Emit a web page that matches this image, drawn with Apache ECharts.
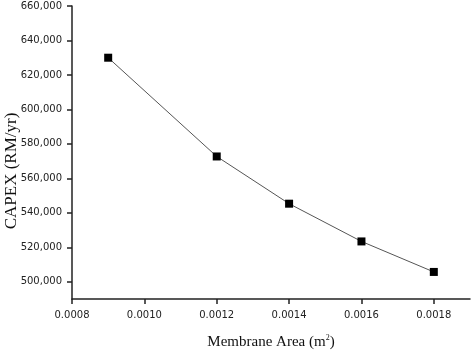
<!DOCTYPE html>
<html>
<head>
<meta charset="utf-8">
<script src="https://cdn.jsdelivr.net/npm/echarts@6/dist/echarts.min.js"></script>
<style>
  html, body { margin: 0; padding: 0; background: #fff; }
  #chart { width: 474px; height: 351px; }
</style>
</head>
<body>
<div id="chart"></div>
<script>
// membrane area (m2) vs CAPEX (RM/yr)
const areas = [0.0009, 0.0012, 0.0014, 0.0016, 0.0018]
const capex = [630000, 572700, 545300, 523400, 505700]
const xTicks = [0.0008, 0.0010, 0.0012, 0.0014, 0.0016, 0.0018]
const yTicks = [500000, 520000, 540000, 560000, 580000, 600000, 620000, 640000, 660000]

const chart = echarts.init(document.getElementById("chart"))
const axisFont = { fontFamily: "DejaVu Sans", fontSize: 10, color: "#222" }
const axisLine = { show: true, lineStyle: { color: "#222", width: 1.5 } }

const option = {
  animation: false,
  grid: { left: 72, right: 4, top: 6, bottom: 52, outerBoundsMode: "none", containLabel: false },
  xAxis: {
    type: "value",
    min: 0.0008,
    max: 0.0019,
    splitLine: { show: false },
    axisLine: axisLine,
    axisTick: { show: true, length: 5, customValues: xTicks, lineStyle: { color: "#222", width: 1.5 } },
    axisLabel: { ...axisFont, margin: 11, customValues: xTicks, formatter: (v) => v.toFixed(4) },
    name: "Membrane Area (m{s|2})",
    nameLocation: "middle",
    nameGap: 35,
    nameMoveOverlap: false,
    nameTextStyle: {
      fontFamily: "Liberation Serif",
      fontSize: 15,
      color: "#111",
      rich: { s: { fontFamily: "Liberation Serif", fontSize: 8, verticalAlign: "top", padding: [0, 0, 8, 0], color: "#111" } },
    },
  },
  yAxis: {
    type: "value",
    min: 490000,
    max: 660000,
    splitLine: { show: false },
    axisLine: axisLine,
    axisTick: { show: true, length: 5, customValues: yTicks, lineStyle: { color: "#222", width: 1.5 } },
    axisLabel: {
      ...axisFont,
      margin: 10,
      customValues: yTicks,
      formatter: (v) => v.toLocaleString("en-US"),
    },
    name: "CAPEX (RM/yr)",
    nameLocation: "middle",
    nameGap: 52,
    nameMoveOverlap: false,
    nameTextStyle: { fontFamily: "Liberation Serif", fontSize: 17, color: "#111", padding: [0, 37, 0, 0] },
  },
  series: [
    {
      type: "line",
      data: areas.map((a, i) => [a, capex[i]]),
      symbol: "rect",
      symbolSize: 8,
      itemStyle: { color: "#000" },
      lineStyle: { color: "#555", width: 1 },
    },
  ],
}
chart.setOption(option)
</script>
</body>
</html>
